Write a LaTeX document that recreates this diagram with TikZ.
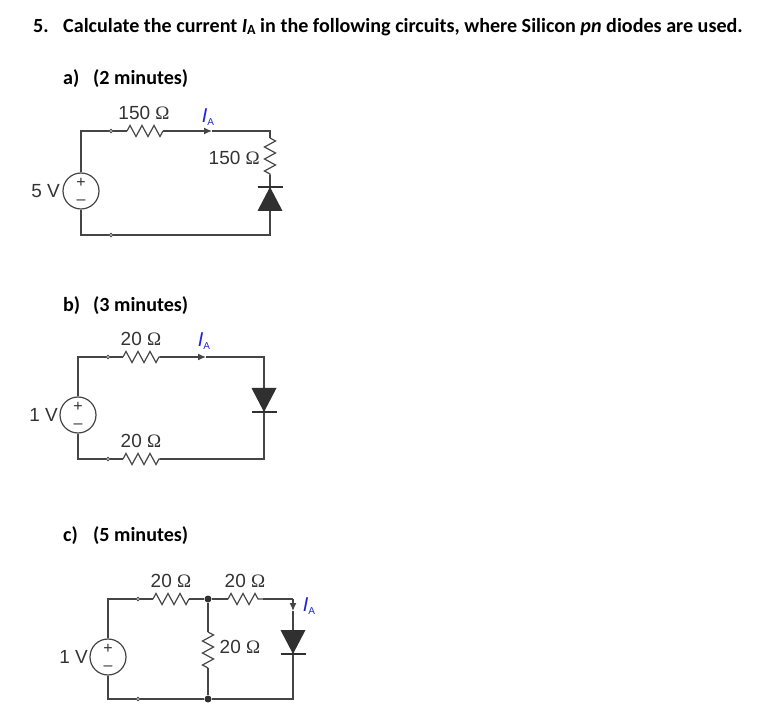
\documentclass[tikz,border=0pt]{standalone}
\usepackage{fontspec}
\setmainfont{Liberation Sans}
\newfontfamily\headfont{Carlito}
\newfontfamily\omegafont{Liberation Serif}
\usetikzlibrary{arrows.meta,decorations.pathmorphing}
\definecolor{wirecol}{HTML}{454545}
\definecolor{textcol}{HTML}{333333}
\definecolor{curcol}{HTML}{2222DD}
\newcommand{\ohm}[1]{#1~{\omegafont\symbol{"03A9}}}
\newcommand{\curlabel}{\textit{I}\raisebox{-3.5pt}{\fontsize{10}{10}\selectfont A}}
\tikzset{
  wire/.style={draw=wirecol,line width=1.2pt},
  res/.style={wire,decorate,decoration={zigzag,amplitude=5.5pt,segment length=12pt}},
  arr/.style={wire,-{Latex[length=8pt,width=7pt]}},
  term/.style={circle,draw=wirecol,fill=white,line width=0.8pt,inner sep=0,minimum size=3.5pt},
  dot/.style={circle,fill=wirecol!70!black,inner sep=0,minimum size=7pt},
  vsource/.style={circle,draw=wirecol,fill=white,line width=1.2pt,inner sep=0,minimum size=36pt},
  head/.style={anchor=base west,inner sep=0,font=\headfont\bfseries\fontsize{20.1}{24}\selectfont,text=black},
  val/.style={inner sep=0,font=\fontsize{19}{20}\selectfont,text=textcol},
  sign/.style={inner sep=0,font=\fontsize{16}{17}\selectfont,text=textcol},
  cur/.style={inner sep=0,font=\fontsize{20}{22}\selectfont,text=curcol},
  diode/.pic={
    \fill[wirecol!70!black] (-12.5,0) -- (12.5,0) -- (0,24) -- cycle;
    \draw[wirecol!70!black,line width=1.8pt] (-12.5,24) -- (12.5,24);
  }
}
\begin{document}
\begin{tikzpicture}[x=1pt,y=-1pt]
  \useasboundingbox (0,0) rectangle (758,708);
  % heading
  \node[head] (num) at (33,33) {5.};
  \node[head] (title) at (63,33) {Calculate the current \textit{I}\raisebox{-2pt}{\fontsize{14}{14}\selectfont A} in the following circuits, where Silicon \textit{pn} diodes are used.};
  % circuit a
  \node[head] (a) at (63,85) {a)};
  \node[head] (atime) at (93,85) {(2 minutes)};
  \node[vsource] (va) at (81,191) {};
  \node[sign] (vap) at (81,183) {+};
  \node[sign] (vam) at (81,202) {--};
  \node[val,anchor=east] (valabel) at (60,191) {5 V};
  \node[term] (ta) at (111,131) {};
  \node[term] (tb) at (111,235) {};
  \coordinate (ra1) at (127,131);
  \coordinate (ra2) at (163,131);
  \coordinate (cura) at (212,131);
  \coordinate (cornera) at (270,131);
  \coordinate (rb1) at (270,138);
  \coordinate (rb2) at (270,175);
  \coordinate (cornerb) at (270,235);
  \draw[wire] (va.north) |- (ta);
  \draw[wire] (ta) -- (ra1);
  \draw[res] (ra1) -- (ra2);
  \draw[arr] (ra2) -- (cura);
  \draw[wire] (cura) -- (cornera) -- (rb1);
  \draw[res] (rb1) -- (rb2);
  \draw[wire] (rb2) -- (cornerb) -- (tb);
  \draw[wire] (tb) -| (va.south);
  \pic at (270,211) [yscale=-1] {diode};
  \node[val] (ra) at (144,113) {\ohm{150}};
  \node[val,anchor=east] (rb) at (260,158) {\ohm{150}};
  \node[cur] (ia) at (208,117) {\curlabel};
  % circuit b
  \node[head] (b) at (63,312) {b)};
  \node[head] (btime) at (93,312) {(3 minutes)};
  \node[vsource] (vb) at (78,415) {};
  \node[sign] (vbp) at (78,407) {+};
  \node[sign] (vbm) at (78,426) {--};
  \node[val,anchor=east] (vblabel) at (58,415) {1 V};
  \node[term] (tc) at (108,357) {};
  \node[term] (td) at (108,459) {};
  \coordinate (rc1) at (123,357);
  \coordinate (rc2) at (160,357);
  \coordinate (curb) at (206,357);
  \coordinate (cornerc) at (264,357);
  \coordinate (cornerd) at (264,459);
  \coordinate (rd1) at (123,459);
  \coordinate (rd2) at (160,459);
  \draw[wire] (vb.north) |- (tc);
  \draw[wire] (tc) -- (rc1);
  \draw[res] (rc1) -- (rc2);
  \draw[arr] (rc2) -- (curb);
  \draw[wire] (curb) -- (cornerc) -- (cornerd) -- (rd2);
  \draw[res] (rd1) -- (rd2);
  \draw[wire] (rd1) -- (td);
  \draw[wire] (td) -| (vb.south);
  \pic at (264,388) {diode};
  \node[val] (rc) at (141,339) {\ohm{20}};
  \node[val] (rd) at (141,441) {\ohm{20}};
  \node[cur] (ib) at (204,341) {\curlabel};
  % circuit c
  \node[head] (c) at (63,541) {c)};
  \node[head] (ctime) at (93,541) {(5 minutes)};
  \node[vsource] (vc) at (108,657) {};
  \node[sign] (vcp) at (108,649) {+};
  \node[sign] (vcm) at (108,668) {--};
  \node[val,anchor=east] (vclabel) at (88,657) {1 V};
  \node[term] (te) at (138,599) {};
  \node[term] (tf) at (138,699) {};
  \node[dot] (na) at (208,599) {};
  \node[dot] (nb) at (208,699) {};
  \coordinate (re1) at (153,599);
  \coordinate (re2) at (189,599);
  \coordinate (rf1) at (228,599);
  \coordinate (rf2) at (263,599);
  \coordinate (rg1) at (208,632);
  \coordinate (rg2) at (208,668);
  \coordinate (cornere) at (293,599);
  \coordinate (curc) at (293,611);
  \coordinate (cornerf) at (293,699);
  \draw[wire] (vc.north) |- (te);
  \draw[wire] (te) -- (re1);
  \draw[res] (re1) -- (re2);
  \draw[wire] (re2) -- (na) -- (rf1);
  \draw[res] (rf1) -- (rf2);
  \draw[wire] (rf2) -- (cornere);
  \draw[arr] (cornere) -- (curc);
  \draw[wire] (curc) -- (cornerf) -- (nb) -- (tf);
  \draw[wire] (tf) -| (vc.south);
  \draw[wire] (na) -- (rg1);
  \draw[res] (rg1) -- (rg2);
  \draw[wire] (rg2) -- (nb);
  \pic at (293,630) {diode};
  \node[val] (re) at (171,581) {\ohm{20}};
  \node[val] (rf) at (245,581) {\ohm{20}};
  \node[val] (rg) at (240,647) {\ohm{20}};
  \node[cur] (ic) at (309,606) {\curlabel};
\end{tikzpicture}
\end{document}
